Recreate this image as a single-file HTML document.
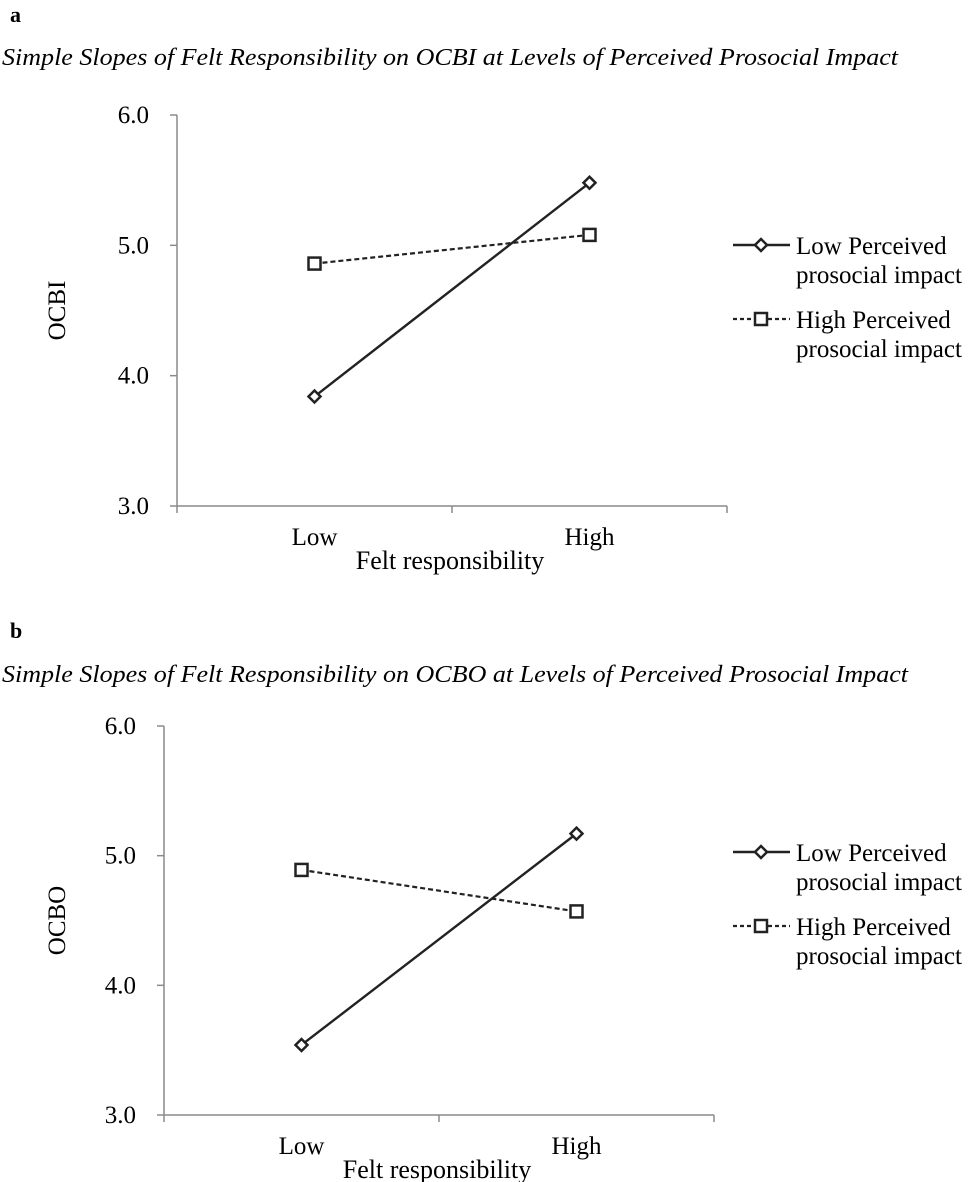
<!DOCTYPE html>
<html><head><meta charset="utf-8"><style>
body{margin:0;background:#fff}
svg{display:block;font-family:"Liberation Serif",serif}
</style></head><body>
<svg id="root" width="969" height="1182" viewBox="0 0 969 1182" xmlns="http://www.w3.org/2000/svg">
<text x="10" y="22" font-size="22" font-weight="bold">a</text>
<text x="2" y="65" font-size="24" font-style="italic" textLength="896" lengthAdjust="spacingAndGlyphs">Simple Slopes of Felt Responsibility on OCBI at Levels of Perceived Prosocial Impact</text>
<text x="10" y="638" font-size="22" font-weight="bold">b</text>
<text x="2" y="682" font-size="24" font-style="italic" textLength="906" lengthAdjust="spacingAndGlyphs">Simple Slopes of Felt Responsibility on OCBO at Levels of Perceived Prosocial Impact</text>
<g id="chartA"></g>
<g id="chartB"></g>
</svg>
<script>
const categories = ["Low", "High"];
const yTicks = [3.0, 4.0, 5.0, 6.0];
const seriesNames = ["Low Perceived prosocial impact", "High Perceived prosocial impact"];
const ocbiLowImpact = [3.84, 5.48];
const ocbiHighImpact = [4.86, 5.08];
const ocboLowImpact = [3.54, 5.17];
const ocboHighImpact = [4.89, 4.57];

const NS = "http://www.w3.org/2000/svg";
const FS = "25";
function mk(parent, tag, attrs, txt){
  const e = document.createElementNS(NS, tag);
  for (const k in attrs) e.setAttribute(k, attrs[k]);
  if (txt !== undefined) e.textContent = txt;
  parent.appendChild(e);
  return e;
}
function draw(g, cfg, lowS, highS, yLabel){
  const x0 = cfg.x0, x1 = cfg.x1, yTop = cfg.yTop, yBot = cfg.yBot;
  const ymin = yTicks[0], ymax = yTicks[yTicks.length-1];
  const ys = v => yBot - (v - ymin) / (ymax - ymin) * (yBot - yTop);
  const band = (x1 - x0) / categories.length;
  const xs = i => x0 + band * (i + 0.5);
  const ax = mk(g, "g", {stroke:"#8a8a8a", "stroke-width":"1.5", fill:"none"});
  
  
  mk(ax, "line", {x1:x0, y1:yTop, x2:x0, y2:yBot});
  mk(ax, "line", {x1:x0, y1:yBot, x2:x1, y2:yBot});
  yTicks.forEach(t => {
    mk(ax, "line", {x1:x0-7, y1:ys(t), x2:x0, y2:ys(t)});
    const tl = mk(g, "text", {x:x0-28, y:ys(t)+8, "font-size":FS, "text-anchor":"end"}, t.toFixed(1));
    
    
  });
  for (let i = 0; i <= categories.length; i++) mk(ax, "line", {x1:x0+band*i, y1:yBot, x2:x0+band*i, y2:yBot+7});
  categories.forEach((c, i) => {
    const t = mk(g, "text", {x:xs(i), y:yBot+39, "font-size":FS, "text-anchor":"middle"}, c);
    
    
  });
  const xt = mk(g, "text", {x:(x0+x1)/2 - 2, y:yBot+63, "font-size":"26", "text-anchor":"middle"}, "Felt responsibility");
  
  
  const yc = (yTop + yBot) / 2;
  const yt = mk(g, "text", {x:65, y:yc, "font-size":FS, "text-anchor":"middle", transform:`rotate(-90 65 ${yc})`}, yLabel);
  
  

  function diamond(p, x, y){ return mk(p, "path", {d:`M${x} ${y-6}L${x+6} ${y}L${x} ${y+6}L${x-6} ${y}Z`, fill:"#fff", stroke:"#222", "stroke-width":"2.5"}); }
  function square(p, x, y){ return mk(p, "rect", {x:x-6, y:y-6, width:12, height:12, fill:"#fff", stroke:"#222", "stroke-width":"2.5"}); }

  const sl = mk(g, "g", {});
  
  
  mk(sl, "line", {x1:xs(0), y1:ys(lowS[0]), x2:xs(1), y2:ys(lowS[1]), stroke:"#222", "stroke-width":"2.4"});
  lowS.forEach((v, i) => { const m = diamond(sl, xs(i), ys(v));   });

  const sh = mk(g, "g", {});
  
  
  mk(sh, "line", {x1:xs(0), y1:ys(highS[0]), x2:xs(1), y2:ys(highS[1]), stroke:"#222", "stroke-width":"2.2", "stroke-dasharray":"5 3"});
  highS.forEach((v, i) => { const m = square(sh, xs(i), ys(v));   });

  const lg = mk(g, "g", {});
  
  
  const ly = cfg.legY;
  const e1 = mk(lg, "g", {});
  
  
  mk(e1, "line", {x1:733, y1:ly, x2:790, y2:ly, stroke:"#222", "stroke-width":"2.4"});
  diamond(e1, 761, ly);
  mk(e1, "text", {x:796, y:ly+9, "font-size":FS}, "Low Perceived");
  mk(e1, "text", {x:796, y:ly+38, "font-size":FS}, "prosocial impact");
  const e2 = mk(lg, "g", {});
  
  
  mk(e2, "line", {x1:733, y1:ly+74, x2:790, y2:ly+74, stroke:"#222", "stroke-width":"2.2", "stroke-dasharray":"4 3"});
  square(e2, 761, ly+74);
  mk(e2, "text", {x:796, y:ly+83, "font-size":FS}, "High Perceived");
  mk(e2, "text", {x:796, y:ly+112, "font-size":FS}, "prosocial impact");
}
draw(document.getElementById("chartA"), {x0:177, x1:727, yTop:115, yBot:506, legY:245}, ocbiLowImpact, ocbiHighImpact, "OCBI");
draw(document.getElementById("chartB"), {x0:164, x1:714, yTop:726, yBot:1115, legY:852}, ocboLowImpact, ocboHighImpact, "OCBO");
</script>
</body></html>
